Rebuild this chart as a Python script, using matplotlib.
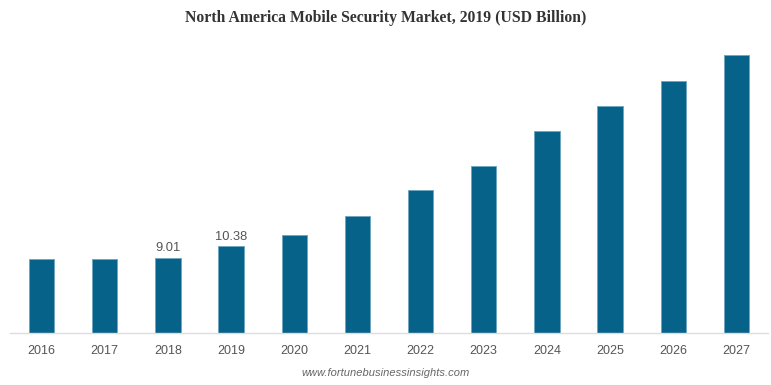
import matplotlib
matplotlib.use("Agg")
import matplotlib.pyplot as plt

years = ["2016", "2017", "2018", "2019", "2020", "2021", "2022", "2023", "2024", "2025", "2026", "2027"]
values = [8.8, 8.89, 9.01, 10.38, 11.7, 14.0, 17.05, 20.0, 24.1, 27.1, 30.1, 33.2]
labels = {2: "9.01", 3: "10.38"}

fig = plt.figure(figsize=(7.71, 3.85), dpi=100)
ax = fig.add_axes([10/771, 52/385, 758/771, 293/385])
x = list(range(len(years)))
ax.bar(x, values, width=0.4, color="#066289", edgecolor="#6fa6c0", linewidth=0.7)
ax.set_xlim(-0.5, len(years) - 0.5)
ax.set_ylim(0, 35)
ax.set_xticks(x)
ax.set_xticklabels(years, fontfamily="Liberation Sans", fontsize=9, color="#555555")
ax.tick_params(axis="x", length=0, pad=9)
ax.set_yticks([])
for s in ["top", "right", "left"]:
    ax.spines[s].set_visible(False)
ax.spines["bottom"].set_color("#dddddd")
ax.spines["bottom"].set_linewidth(1)
for i, t in labels.items():
    ax.text(i, values[i] + 0.4, t, ha="center", va="bottom", fontfamily="Liberation Sans",
            fontsize=9.3, color="#555555")

fig.text(0.5, 1 - 18/385, "North America Mobile Security Market, 2019 (USD Billion)",
         ha="center", va="center", fontfamily="Liberation Serif", fontweight="bold",
         fontsize=11.3, color="#333333")
fig.text(0.5, 1 - 373/385, "www.fortunebusinessinsights.com", ha="center", va="center",
         fontfamily="Liberation Sans", fontstyle="italic", fontsize=8, color="#666666")

fig.savefig("out.png", dpi=100)
